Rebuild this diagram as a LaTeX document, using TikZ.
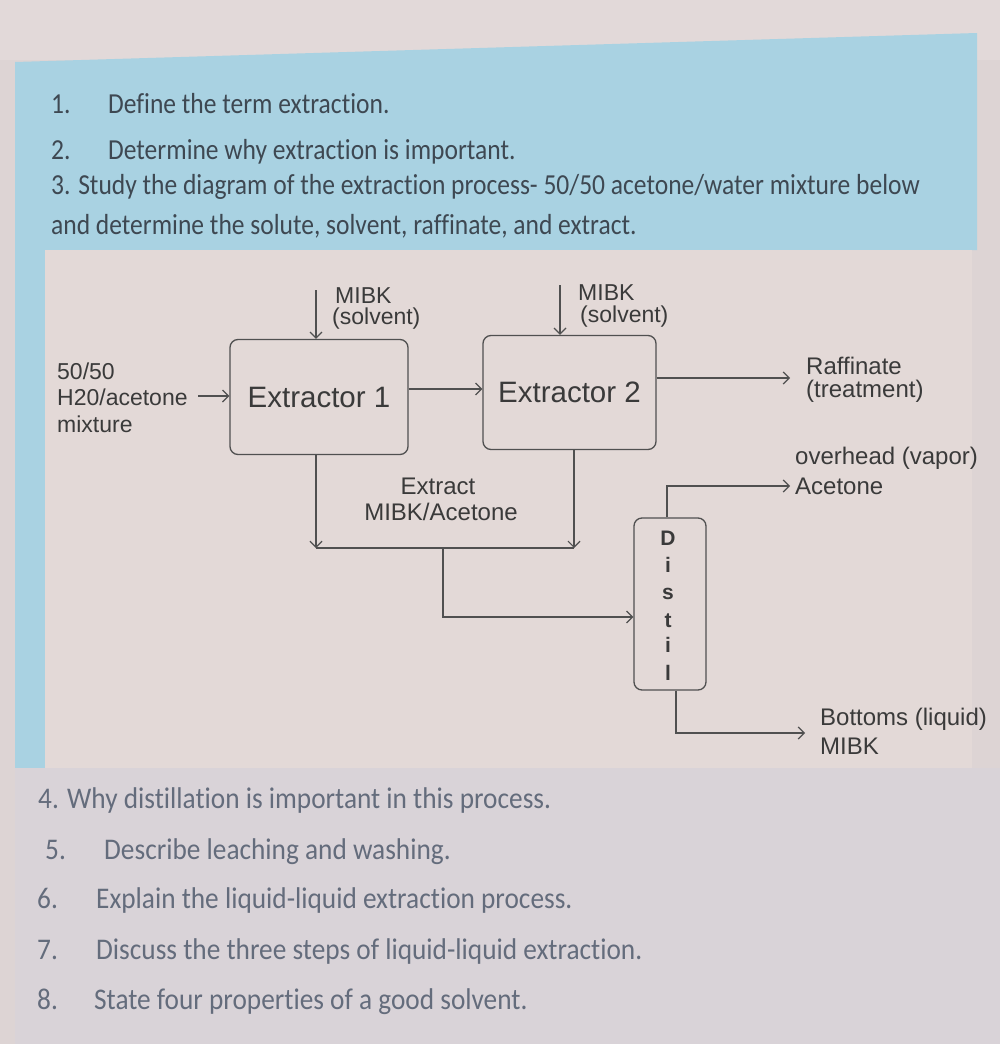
\documentclass[tikz,border=0pt]{standalone}
\usepackage{fontspec}
\setmainfont{Liberation Sans}
\newfontfamily\qf[FakeStretch=0.88,Ligatures=NoCommon]{Carlito}
\newfontfamily\qfb[FakeStretch=0.91,Ligatures=NoCommon]{Carlito}
\usetikzlibrary{arrows.meta}
\definecolor{bgout}{HTML}{DDD4D4}
\definecolor{bgtop}{HTML}{E2D9D9}
\definecolor{bluep}{HTML}{A9D2E2}
\definecolor{diagbg}{HTML}{E3D9D7}
\definecolor{botbg}{HTML}{D9D3D8}
\definecolor{qdark}{HTML}{3E4852}
\definecolor{qlight}{HTML}{646C7C}
\definecolor{ink}{HTML}{3A3A3A}
\definecolor{lineC}{HTML}{505050}
\tikzset{
  arr/.style={draw=lineC, line width=1.2pt, -{Straight Barb[length=6pt,width=12pt]}},
  ln/.style={draw=lineC, line width=1.2pt},
  unit/.style={draw=lineC, line width=1.3pt, rounded corners=8pt, inner sep=0pt},
  lab/.style={anchor=base west, inner sep=0pt, text=ink, font=\fontsize{23}{26}\selectfont},
  labr/.style={anchor=base west, inner sep=0pt, text=ink, font=\fontsize{24}{26}\selectfont},
  labc/.style={anchor=base, inner sep=0pt, text=ink, font=\fontsize{24}{26}\selectfont},
  qtop/.style={anchor=base west, inner sep=0pt, text=qdark, font=\qf\fontsize{29}{34}\selectfont},
  qbot/.style={anchor=base west, inner sep=0pt, text=qlight, font=\qfb\fontsize{30}{34}\selectfont},
}
\begin{document}
\begin{tikzpicture}[x=1pt,y=-1pt]
\useasboundingbox (0,0) rectangle (1000,1044);
% backgrounds
\fill[bgout] (0,0) rectangle (1000,1044);
\fill[bgtop] (0,0) rectangle (1000,60);
\fill[bluep] (15,62) -- (977,33) -- (977,250) -- (45,250) -- (45,768) -- (15,768) -- cycle;
\fill[diagbg] (45,250) rectangle (972,768);
\fill[botbg] (15,768) rectangle (1000,1044);

% questions top
\node[qtop] (n1) at (51,113) {1.};
\node[qtop] (q1) at (108,113) {Define the term extraction.};
\node[qtop] (n2) at (51,159) {2.};
\node[qtop] (q2) at (108,159) {Determine why extraction is important.};
\node[qtop] (q3) at (51,194) {3. Study the diagram of the extraction process- 50/50 acetone/water mixture below};
\node[qtop] (q3b) at (51,234) {and determine the solute, solvent, raffinate, and extract.};

% diagram units
\node[unit, minimum width=178pt, minimum height=115pt, font=\fontsize{29.5}{32}\selectfont, text=ink] (e1) at (319,397) {Extractor 1};
\node[unit, minimum width=173pt, minimum height=114pt, font=\fontsize{29.5}{32}\selectfont, text=ink] (e2) at (569.5,392.5) {Extractor 2};
\node[unit, minimum width=72pt, minimum height=172pt] (dist) at (670,604) {};
\foreach \l/\yy [count=\i] in {D/545, i/572, s/599, t/627, i/652, l/680}
  \node[labc, font=\fontsize{21}{24}\selectfont\bfseries] (dl\i) at (668,\yy) {\l};

% labels
\node[lab] (fa) at (57,379) {50/50};
\node[lab] (fb) at (57,405) {H20/acetone};
\node[lab] (fc) at (57,432) {mixture};
\node[lab] (ma1) at (335,303) {MIBK};
\node[lab] (mb1) at (332,324) {(solvent)};
\node[lab] (ma2) at (578,300) {MIBK};
\node[lab] (mb2) at (580,322) {(solvent)};
\node[labr] (ra) at (806,374) {Raffinate};
\node[labr] (rb) at (806,397) {(treatment)};
\node[labr] (oa) at (795,464) {overhead (vapor)};
\node[labr] (ob) at (795,494) {Acetone};
\node[labc] (xa) at (438,494) {Extract};
\node[labc] (xb) at (441,520) {MIBK/Acetone};
\node[labr] (ba) at (820,725) {Bottoms (liquid)};
\node[labr] (bb) at (820,754) {MIBK};

% connectors
\coordinate (fin) at (198,396);
\draw[arr] (fin) -- (fin -| e1.west);
\coordinate (mid) at (450,389);
\draw[arr] (mid -| e1.east) -- (mid -| e2.west);
\coordinate (m1) at (316,290);
\draw[arr] (m1) -- (m1 |- e1.north);
\coordinate (m2) at (560,285);
\draw[arr] (m2) -- (m2 |- e2.north);
\coordinate (raf) at (790,378);
\draw[arr] (raf -| e2.east) -- (raf);
\coordinate (j1) at (316,548);
\coordinate (j2) at (574,548);
\draw[arr] (j1 |- e1.south) -- (j1);
\draw[arr] (j2 |- e2.south) -- (j2);
\draw[ln] (j1) -- (j2);
\coordinate (j3) at (443,548);
\coordinate (j4) at (443,617);
\draw[arr] (j3) -- (j4) -- (j4 -| dist.west);
\coordinate (ov) at (790,486);
\coordinate (ovs) at (667,486);
\draw[arr] (ovs |- dist.north) -- (ovs) -- (ov);
\coordinate (bt) at (805,733);
\coordinate (bts) at (676,733);
\draw[arr] (bts |- dist.south) -- (bts) -- (bt);

% questions bottom
\node[qbot] (q4) at (38,808) {4. Why distillation is important in this process.};
\node[qbot] (n5) at (45,859) {5.};
\node[qbot] (q5) at (104,859) {Describe leaching and washing.};
\node[qbot] (n6) at (37,908) {6.};
\node[qbot] (q6) at (96,908) {Explain the liquid-liquid extraction process.};
\node[qbot] (n7) at (37,959) {7.};
\node[qbot] (q7) at (96,959) {Discuss the three steps of liquid-liquid extraction.};
\node[qbot] (n8) at (37,1009) {8.};
\node[qbot] (q8) at (94,1009) {State four properties of a good solvent.};
\end{tikzpicture}
\end{document}
